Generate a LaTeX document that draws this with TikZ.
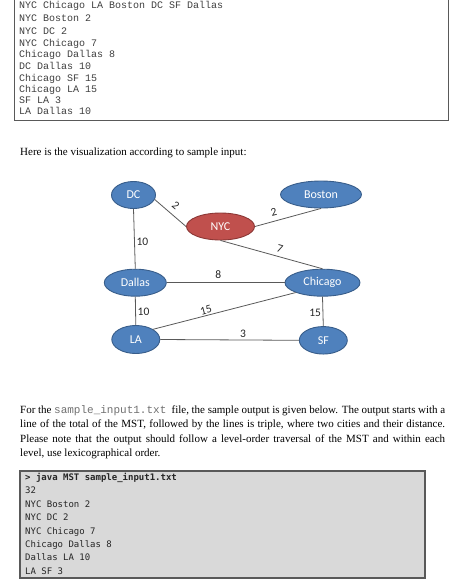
\documentclass[tikz,border=0pt]{standalone}
\usepackage{fontspec}
\setmainfont{Liberation Serif}
\newfontfamily\calibfont{Carlito}
\newfontfamily\courfont{Liberation Mono}
\newfontfamily\consfont{DejaVu Sans Mono}
\usetikzlibrary{shapes.geometric}
\definecolor{nodeblue}{HTML}{4F81BD}
\definecolor{nodeblueborder}{HTML}{385D8A}
\definecolor{nodered}{HTML}{C0504D}
\definecolor{noderedborder}{HTML}{8C3836}
\definecolor{edgegray}{HTML}{595959}
\definecolor{boxborder}{HTML}{595959}
\definecolor{codegray}{HTML}{D9D9D9}
\definecolor{inputtext}{HTML}{3F3F3F}
\definecolor{mono}{HTML}{707070}
\tikzset{
  city/.style={ellipse, fill=nodeblue, draw=nodeblueborder, line width=0.9pt,
    text=white, font=\calibfont\fontsize{12}{14}\selectfont, inner sep=0pt},
  hub/.style={city, fill=nodered, draw=noderedborder},
  edge/.style={draw=edgegray, line width=0.8pt},
  wlabel/.style={font=\calibfont\fontsize{11.5}{13}\selectfont, text=black!85, inner sep=0pt},
  inline/.style={anchor=base west, inner sep=0pt, text=inputtext,
    font=\courfont\fontsize{10}{12}\selectfont},
  outline/.style={anchor=base west, inner sep=0pt, text=black!85,
    font=\consfont\fontsize{9}{11}\selectfont},
  prose/.style={anchor=base west, inner sep=0pt, text=black,
    font=\fontsize{11}{14.4}\selectfont}
}
\begin{document}
\begin{tikzpicture}[x=1pt,y=-1pt]
\useasboundingbox (0,0) rectangle (474,582);
% input box
\draw[boxborder, line width=1.2pt] (14.5,0) -- (14.5,120.7) -- (448.5,120.7) -- (448.5,0);
\node[inline] (i1) at (19,8.7) {NYC Chicago LA Boston DC SF Dallas};
\node[inline] (i2) at (19,21.3) {NYC Boston 2};
\node[inline] (i3) at (19,34) {NYC DC 2};
\node[inline] (i4) at (19,46.7) {NYC Chicago 7};
\node[inline] (i5) at (19,57.3) {Chicago Dallas 8};
\node[inline] (i6) at (19,69.3) {DC Dallas 10};
\node[inline] (i7) at (19,81) {Chicago SF 15};
\node[inline] (i8) at (19,92.3) {Chicago LA 15};
\node[inline] (i9) at (19,103) {SF LA 3};
\node[inline] (i10) at (19,114.3) {LA Dallas 10};
% caption
\node[prose] (cap) at (20,155) {Here is the visualization according to sample input:};
% graph
\node[city, minimum width=44pt, minimum height=27pt] (DC) at (133.5,195) {DC};
\node[city, minimum width=81pt, minimum height=27pt] (Boston) at (321,194.5) {Boston};
\node[hub, minimum width=68pt, minimum height=27pt] (NYC) at (220.5,226.5) {NYC};
\node[city, minimum width=62pt, minimum height=27pt] (Dallas) at (135.3,282.7) {Dallas};
\node[city, minimum width=75pt, minimum height=27pt] (Chicago) at (322.5,282.7) {Chicago};
\node[city, minimum width=48pt, minimum height=28pt] (LA) at (135.8,339.5) {LA};
\node[city, minimum width=48pt, minimum height=27.5pt] (SF) at (323.3,340.3) {SF};
\path[edge] (DC.-12) -- node[wlabel, pos=.67, yshift=12.5pt, rotate=-40] (l1) {2} (NYC.west);
\path[edge] (NYC.east) -- node[wlabel, pos=.285, yshift=9pt, rotate=14] (l2) {2} (Boston.south);
\path[edge] (NYC.south) -- node[wlabel, pos=.583, yshift=8pt, rotate=-16] (l3) {7} (Chicago.north);
\path[edge] (DC.south) -- node[wlabel, pos=.546, xshift=8pt] (l4) {10} (Dallas.north);
\path[edge] (Dallas.east) -- node[wlabel, pos=.437, yshift=8.4pt] (l5) {8} (Chicago.west);
\path[edge] (Dallas.south) -- node[wlabel, pos=.52, xshift=8pt] (l6) {10} (LA.north);
\path[edge] (LA.north east) -- node[wlabel, pos=.371, yshift=5.7pt, rotate=15] (l7) {15} (Chicago.south west);
\path[edge] (LA.east) -- node[wlabel, pos=.598, yshift=6pt] (l8) {3} (SF.west);
\path[edge] (Chicago.south) -- node[wlabel, pos=.54, xshift=-7.8pt] (l9) {15} (SF.north);
% paragraph
\node[prose, text width=425pt, align=justify] (para) at (20,413.5)
  {For the {\courfont\fontsize{11}{14.4}\selectfont\color{mono}sample\_input1.txt}\ \ file, the sample output is given below. The output starts with a\linebreak
   line of the total of the MST, followed by the lines is triple, where two cities and their distance.\linebreak
   Please note that the output should follow a level-order traversal of the MST and within each\linebreak
   level, use lexicographical order.};
% output box
\draw[draw=boxborder, fill=codegray, line width=1.5pt] (20,471) rectangle (425,578);
\node[outline, font=\consfont\bfseries\fontsize{9}{11}\selectfont] (o1) at (25,480.5) {> java MST sample\_input1.txt};
\node[outline] (o2) at (25,493.9) {32};
\node[outline] (o3) at (25,507.3) {NYC Boston 2};
\node[outline] (o4) at (25,520.7) {NYC DC 2};
\node[outline] (o5) at (25,534.1) {NYC Chicago 7};
\node[outline] (o6) at (25,547.5) {Chicago Dallas 8};
\node[outline] (o7) at (25,560.9) {Dallas LA 10};
\node[outline] (o8) at (25,574.3) {LA SF 3};
\end{tikzpicture}
\end{document}
